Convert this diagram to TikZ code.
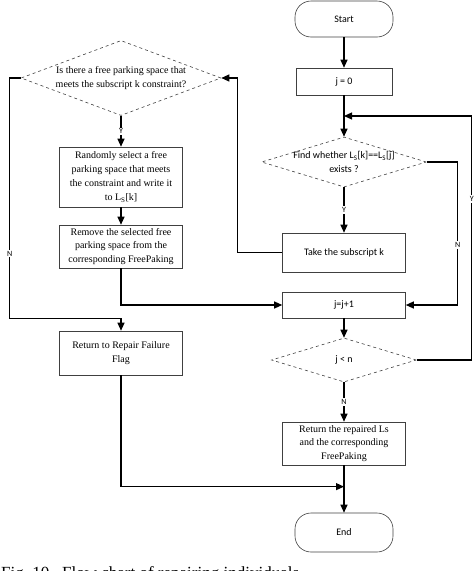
\documentclass[tikz,border=0pt]{standalone}
\usepackage{fontspec}
\setmainfont{Liberation Serif}
\newfontfamily\sansfont{Carlito}
\usetikzlibrary{shapes.geometric,arrows.meta,calc}

\begin{document}
\begin{tikzpicture}[x=1pt, y=-1pt,
  box/.style={draw=black!75, line width=0.6pt, align=center, inner sep=1pt, minimum width=123pt, font=\fontsize{10}{14}\selectfont},
  sbox/.style={box, font=\sansfont\fontsize{10}{14}\selectfont},
  term/.style={sbox, rounded corners=16pt, minimum width=98pt},
  decision/.style={diamond, draw=black!75, line width=0.6pt, dashed, inner sep=0pt},
  sfont/.style={align=center, font=\sansfont\fontsize{10}{14}\selectfont},
  flow/.style={draw, line width=1.2pt, -{Triangle[length=8pt,width=7pt]}},
  lbl/.style={fill=white, inner sep=1pt, font=\sansfont\fontsize{8}{8}\selectfont}]

  \useasboundingbox (0,0) rectangle (474,571);

  % right column
  \node [term, minimum height=36pt] (start) at (344,19) {Start};
  \node [sbox, minimum width=96pt, minimum height=27pt] (init) at (344,81.5) {j = 0};
  \node [decision, minimum width=165pt, minimum height=50pt,
         label={[sfont]center:{Find whether L\textsubscript{S}[k]==L\textsubscript{S}[j]\\exists ?}}] (find) at (344,162) {};
  \node [sbox, minimum height=39pt] (take) at (344,252.5) {Take the subscript k};
  \node [sbox, minimum height=26pt] (incr) at (344,305) {j=j+1};
  \node [decision, minimum width=145pt, minimum height=44pt,
         label={[sfont]center:{j < n}}] (less) at (344,360) {};
  \node [box, minimum height=43pt, font=\fontsize{10}{13.5}\selectfont] (ret) at (344,443.5) {Return the repaired Ls\\and the corresponding\\FreePaking};
  \node [term, minimum height=39pt] (stop) at (344,532.5) {End};

  % left column
  \node [decision, minimum width=200pt, minimum height=75pt,
         label={[align=center, font=\fontsize{10}{14}\selectfont]center:{Is there a free parking space that\\meets the subscript k constraint?}}] (free) at (121,78) {};
  \node [box, minimum height=60pt] (select) at (121,177) {Randomly select a free\\parking space that meets\\the constraint and write it\\to L\textsubscript{S}[k]};
  \node [box, minimum height=43pt, font=\fontsize{10}{13.5}\selectfont] (remove) at (121,246.5) {Remove the selected free\\parking space from the\\corresponding FreePaking};
  \node [box, minimum height=44pt] (fail) at (121,353) {Return to Repair Failure\\Flag};

  \node [anchor=base west, inner sep=0pt, font=\fontsize{17}{17}\selectfont] (caption) at (1,578) {Fig.~10.~~Flow chart of repairing individuals};

  \coordinate (loop) at ($(init.south)!0.5!(find.north)$);
  \coordinate (merge) at ($(ret.south)!0.45!(stop.north)$);

  \draw [flow] (start) -- (init);
  \draw [flow] (init) -- (find);
  \draw [flow] (find) -- node [lbl] {Y} (take);
  \draw [flow] (take.west) -- ++(-45,0) |- (free.east);
  \draw [flow] (free.west) -- ++(-11,0) |- node [lbl, pos=0.365] {N} ([yshift=12pt]fail.north) -- (fail.north);
  \draw [flow] (free) -- node [lbl] {Y} (select);
  \draw [flow] (select) -- (remove);
  \draw [flow] (remove) |- (incr);
  \draw [flow] (find.east) -- ++(31,0) |- node [lbl, pos=0.29] {N} (incr.east);
  \draw [flow] (incr) -- (less);
  \draw [flow] (less.east) -- ++(55,0) |- node [lbl, pos=0.33] {Y} (loop);
  \draw [flow] (less) -- node [lbl] {N} (ret);
  \draw [flow] (ret) -- (stop);
  \draw [flow] (fail) |- (merge);
\end{tikzpicture}
\end{document}
